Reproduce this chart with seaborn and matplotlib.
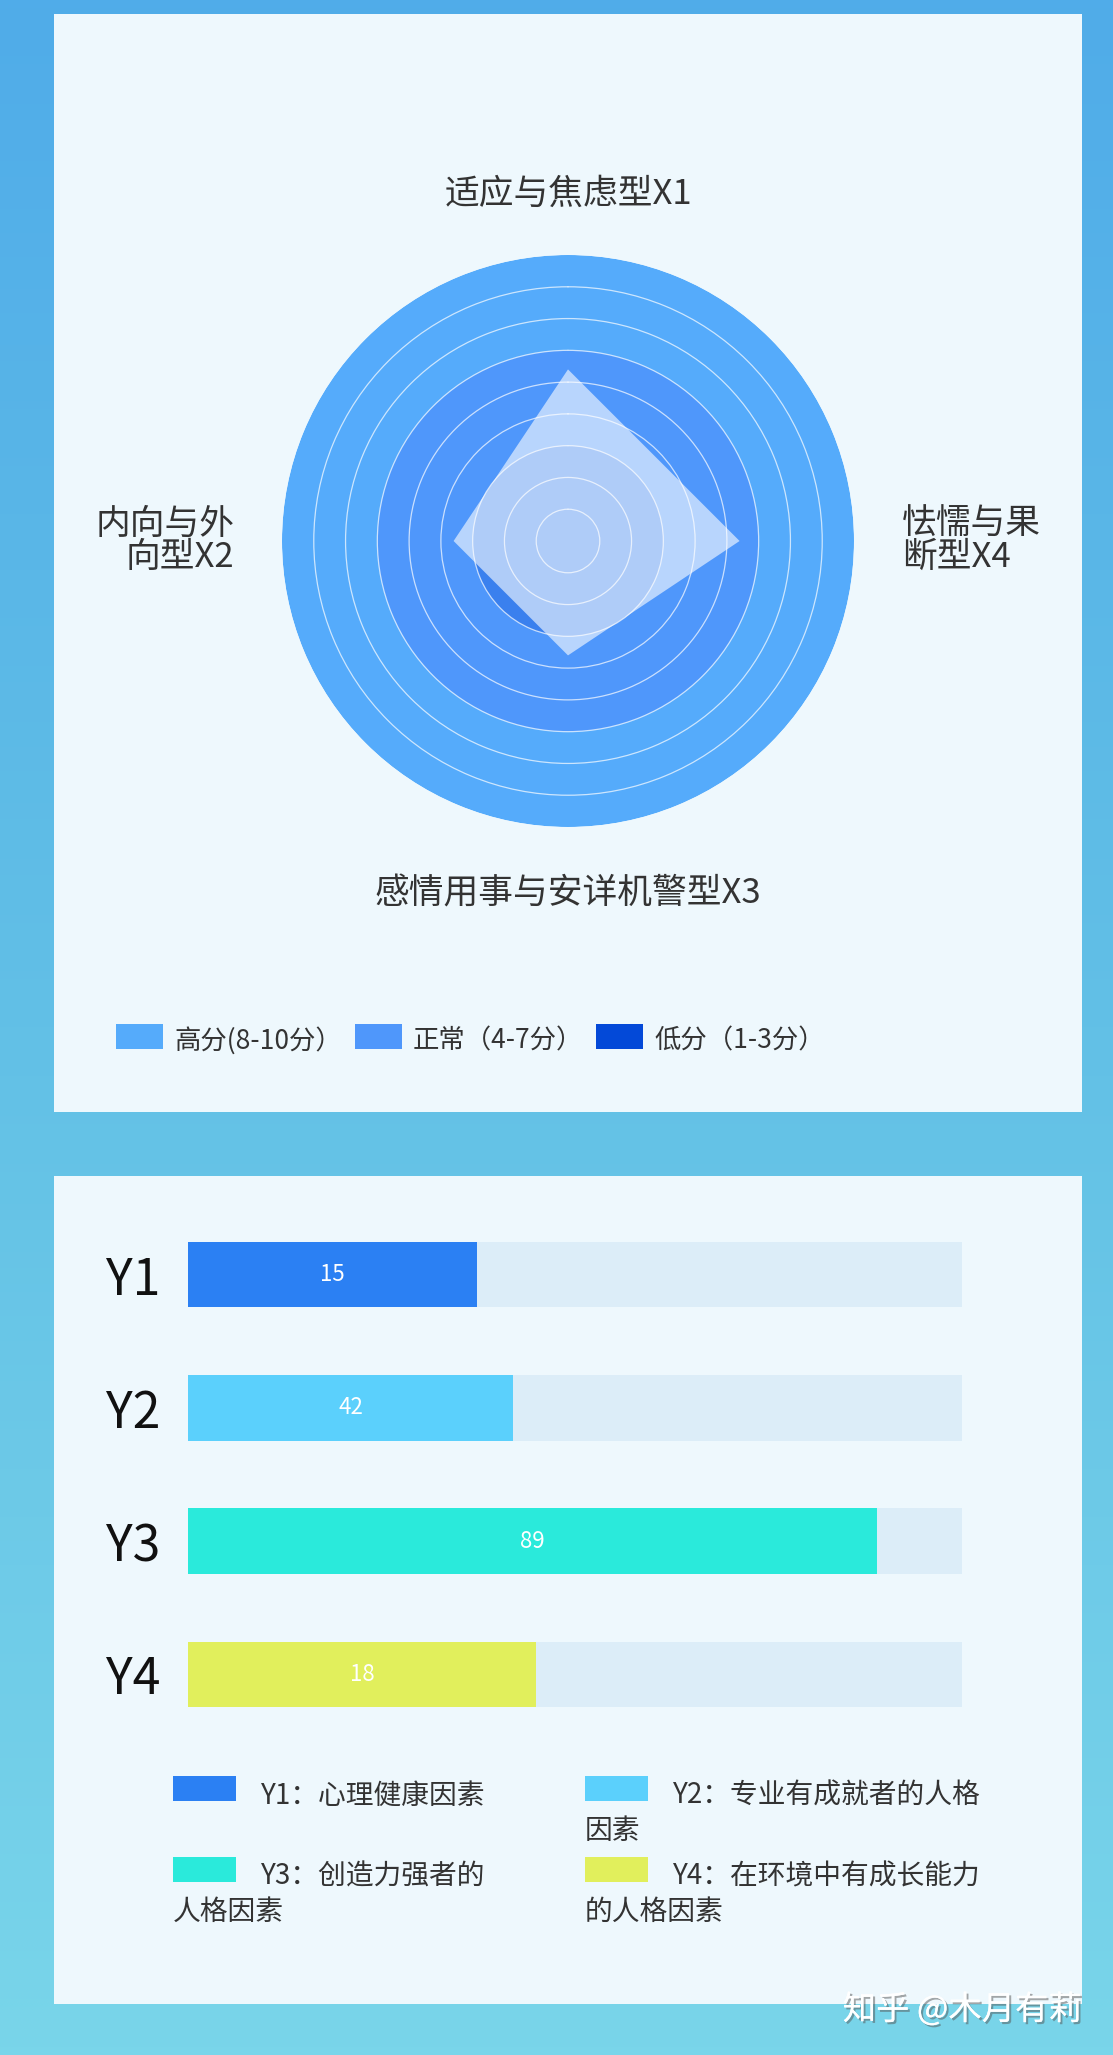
import numpy as np
import pandas as pd
import matplotlib.pyplot as plt
import matplotlib.patheffects as pe
from matplotlib.colors import LinearSegmentedColormap
from matplotlib.patches import Rectangle
import seaborn as sns

# radar: clockwise from the top
radar_axes = ['适应与焦虑型X1', '怯懦与果\n断型X4', '感情用事与安详机警型X3', '内向与外\n向型X2']
radar_values = [5.4, 5.4, 3.6, 3.6]
band_names = ['高分(8-10分）', '正常（4-7分）', '低分（1-3分）']
band_tops = [9, 6, 3]
band_ring_colors = ['#55abfb', '#4f97fb', '#3a80ee']
band_legend_colors = ['#55abfb', '#4f97fb', '#0349d8']

# bars
bar_cats = ['Y1', 'Y2', 'Y3', 'Y4']
bar_lengths = [37.4, 42, 89, 45]
bar_labels = ['15', '42', '89', '18']
bar_colors = ['#2b80f3', '#5bd0fc', '#2aeadb', '#e1ef5c']
bar_legend_line1 = ['Y1：心理健康因素', 'Y2：专业有成就者的人格', 'Y3：创造力强者的', 'Y4：在环境中有成长能力']
bar_legend_line2 = ['', '因素', '人格因素', '的人格因素']

W, H = 1113, 2055
PANEL = '#eef8fd'
TXT = '#333333'

sns.set_style('white')
plt.rcParams['font.family'] = ['Noto Sans CJK SC', 'DejaVu Sans']


def fx(x):
    return x / W


def fy(y):
    return 1 - y / H


fig = plt.figure(figsize=(W / 100, H / 100), dpi=100)

# gradient background
bg = fig.add_axes([0, 0, 1, 1], zorder=-3)
cmap = LinearSegmentedColormap.from_list('bg', ['#50ace9', '#62c0e6', '#79d5ea'])
bg.imshow(np.linspace(0, 1, 256).reshape(-1, 1), aspect='auto', cmap=cmap,
          extent=[0, 1, 0, 1])
bg.set_axis_off()

# white-ish panels
for top, bot in [(14, 1112), (1176, 2004)]:
    fig.patches.append(Rectangle((fx(54), fy(bot)), fx(1082) - fx(54), fy(top) - fy(bot),
                                 transform=fig.transFigure, facecolor=PANEL,
                                 edgecolor='none', zorder=-2))

# ---- radar ----
cx, cy, rad = 568, 541, 286
ax = fig.add_axes([fx(cx - rad), fy(cy + rad), 2 * rad / W, 2 * rad / H], polar=True)
ax.set_facecolor('none')
ax.set_theta_zero_location('N')
ax.set_theta_direction(-1)
for top, col in zip(band_tops, band_ring_colors):
    ax.bar(0, top, width=2 * np.pi, bottom=0, color=col, edgecolor='none')

angles = np.linspace(0, 2 * np.pi, len(radar_axes), endpoint=False)
ang_closed = np.append(angles, angles[0])
val_closed = np.append(radar_values, radar_values[0])
ax.fill(ang_closed, val_closed, color='white', alpha=0.6, lw=0)

ax.set_ylim(0, 9)
ax.set_yticks(range(1, 9))
ax.set_yticklabels([])
ax.set_xticks(angles)
ax.set_xticklabels([])
ax.xaxis.grid(False)
ax.yaxis.grid(True, color='white', lw=0.9, alpha=0.7)
ax.set_axisbelow(False)
ax.spines['polar'].set_visible(False)

label_r = [10.92, 10.5, 11.12, 10.5]
label_ha = ['center', 'left', 'center', 'right']
for a, r, ha, name in zip(angles, label_r, label_ha, radar_axes):
    ax.text(a, r, name, ha=ha, va='center', fontsize=25, color=TXT,
            linespacing=0.95, clip_on=False)

# radar legend
leg_x = [116, 355, 596]
for x, col, name in zip(leg_x, band_legend_colors, band_names):
    fig.patches.append(Rectangle((fx(x), fy(1049)), 47 / W, 25 / H,
                                 transform=fig.transFigure, facecolor=col,
                                 edgecolor='none', zorder=2))
    fig.text(fx(x + 58), fy(1041), name, ha='left', va='center',
             fontsize=19, color=TXT)

# ---- bars ----
df = pd.DataFrame({'cat': bar_cats, 'value': bar_lengths, 'full': [100] * len(bar_cats)})
bx = fig.add_axes([fx(188), fy(1741), (962 - 188) / W, (1741 - 1208) / H])
bx.set_facecolor('none')
sns.barplot(data=df, x='full', y='cat', color='#dcedf8', width=0.49,
            saturation=1, linewidth=0, ax=bx)
sns.barplot(data=df, x='value', y='cat', hue='cat', palette=bar_colors,
            width=0.49, saturation=1, linewidth=0, legend=False, ax=bx)
for i, (v, lab) in enumerate(zip(bar_lengths, bar_labels)):
    bx.text(v / 2, i, lab, ha='center', va='center', fontsize=16, color='white')
bx.set_xlim(0, 100)
bx.set_ylim(3.5, -0.5)
bx.set_xlabel('')
bx.set_ylabel('')
bx.set_xticks([])
bx.tick_params(axis='y', length=0, pad=20, labelsize=36, labelcolor='#111111')
sns.despine(ax=bx, left=True, bottom=True)

# bar legend
pos = [(173, 1776), (585, 1776), (173, 1857), (585, 1857)]
for (x, y), col, l1, l2 in zip(pos, bar_colors, bar_legend_line1, bar_legend_line2):
    fig.patches.append(Rectangle((fx(x), fy(y + 25)), 63 / W, 25 / H,
                                 transform=fig.transFigure, facecolor=col,
                                 edgecolor='none', zorder=2))
    fig.text(fx(x + 88), fy(y + 20), l1, ha='left', va='center', fontsize=20, color=TXT)
    if l2:
        fig.text(fx(x), fy(y + 55), l2, ha='left', va='center', fontsize=20, color=TXT)

# watermark
fig.text(fx(1082), fy(2010), '知乎 @木月有莉', ha='right', va='center', fontsize=24,
         color='white',
         path_effects=[pe.withSimplePatchShadow(offset=(1.5, -1.5), shadow_rgbFace='#555555',
                                                alpha=0.5), pe.Normal()])

fig.savefig('out.png', dpi=100)
